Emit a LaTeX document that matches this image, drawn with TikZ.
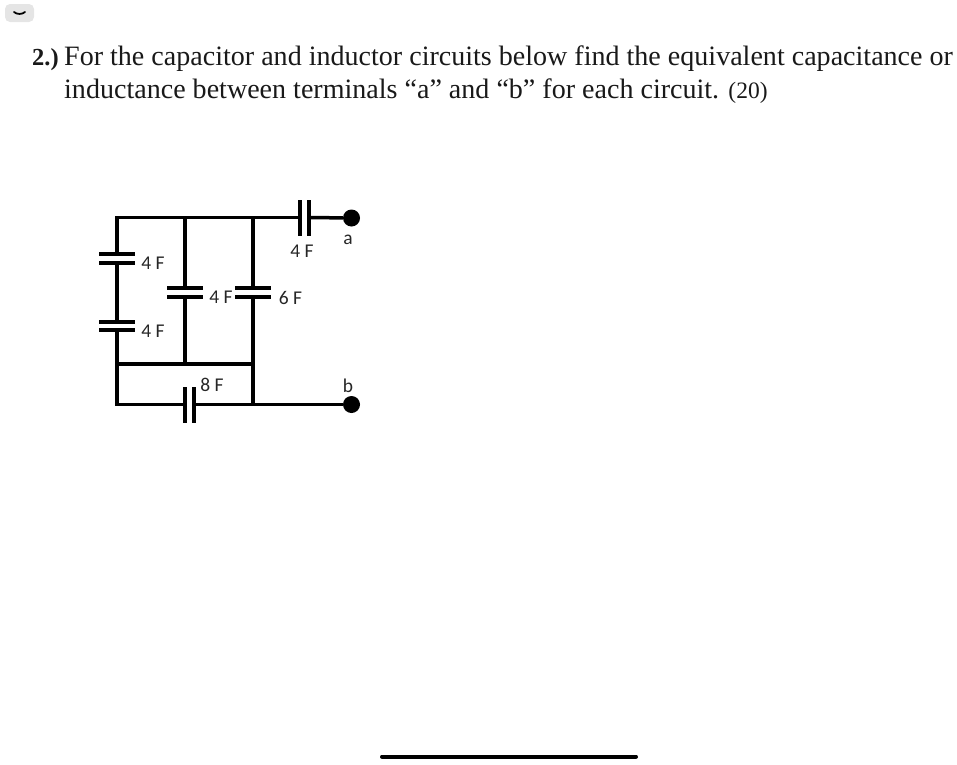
\documentclass[tikz,border=0pt]{standalone}
\usepackage{fontspec}
\setmainfont{Liberation Serif}
\newfontfamily\lab{Carlito}
\tikzset{
 wire/.style={line width=3.5pt,black},
 plate/.style={line width=3.7pt,black},
 term/.style={circle,fill=black,draw=none,minimum size=17pt,inner sep=0pt},
 val/.style={font=\lab\fontsize{19.5}{21}\selectfont,inner sep=0pt,text=black!85},
 txt/.style={anchor=base west,inner sep=0pt,font=\fontsize{28.05}{30}\selectfont,text=black!90},
}
\begin{document}
\begin{tikzpicture}[x=1pt,y=-1pt]
\useasboundingbox (0,0) rectangle (957,764);
% status-bar chip
\fill[black!10,rounded corners=5pt] (5,4) rectangle (34,22);
\draw[line width=1.8pt,line cap=round] (14,12) .. controls (17,14.6) and (22,14.6) .. (25,12);
% text
\node[txt] (t0) at (32,65) {\textbf{\fontsize{24.5}{30}\selectfont 2.)}};
\node[txt] (t1) at (64,65) {For the capacitor and inductor circuits below find the equivalent capacitance or};
\node[txt] (t2) at (64,98) {inductance between terminals “a” and “b” for each circuit. {\fontsize{23.5}{30}\selectfont (20)}};
% junctions
\coordinate (TL) at (117,217.5);
\coordinate (TM) at (185,217.5);
\coordinate (TR) at (253,217.5);
\coordinate (HL) at (117,364);
\coordinate (HM) at (185,364);
\coordinate (HR) at (253,364);
\coordinate (BL) at (117,404.5);
\coordinate (BR) at (253,404.5);
\node[term] (a) at (351.5,218) {};
\node[term] (b) at (351.5,404.5) {};
% capacitor plate centres
\coordinate (C1a) at (300,217.5); \coordinate (C1b) at (308.7,217.5);
\coordinate (C2a) at (117,254.3); \coordinate (C2b) at (117,262.7);
\coordinate (C3a) at (117,321.7); \coordinate (C3b) at (117,330);
\coordinate (C4a) at (185,288);   \coordinate (C4b) at (185,296.7);
\coordinate (C5a) at (253,288);   \coordinate (C5b) at (253,296.7);
\coordinate (C6a) at (185,404.5); \coordinate (C6b) at (193.7,404.5);
% wires
\draw[wire,line join=miter] (C2a) -- (TL) -- (C1a);
\draw[wire] (C1b) -- (a);
\draw[wire] (C2b) -- (C3a);
\draw[wire,line join=miter] (C3b) -- (BL) -- (C6a);
\draw[wire] (C6b) -- (b);
\draw[wire] (TM) -- (C4a);
\draw[wire] (C4b) -- (HM);
\draw[wire] (TR) -- (C5a);
\draw[wire] (C5b) -- (BR);
\draw[wire] (HL) -- (HR);
% plates
\foreach \n in {C1a,C1b,C6a,C6b}
  \draw[plate] ([yshift=-18pt]\n) -- ([yshift=18pt]\n);
\foreach \n in {C2a,C2b,C3a,C3b,C4a,C4b,C5a,C5b}
  \draw[plate] ([xshift=-18pt]\n) -- ([xshift=18pt]\n);
% labels
\node[val] (l1) at (302,251) {4 F};
\node[val] (l2) at (153,263.5) {4 F};
\node[val] (l3) at (153,331.5) {4 F};
\node[val] (l4) at (221,297.5) {4 F};
\node[val] (l5) at (290.5,297.5) {6 F};
\node[val] (l6) at (212,385) {8 F};
\node[val] (la) at (348,240) {a};
\node[val] (lb) at (348,386) {b};
% home bar
\draw[line width=4pt,line cap=round] (382,756.5) -- (636,756.5);
\end{tikzpicture}
\end{document}
